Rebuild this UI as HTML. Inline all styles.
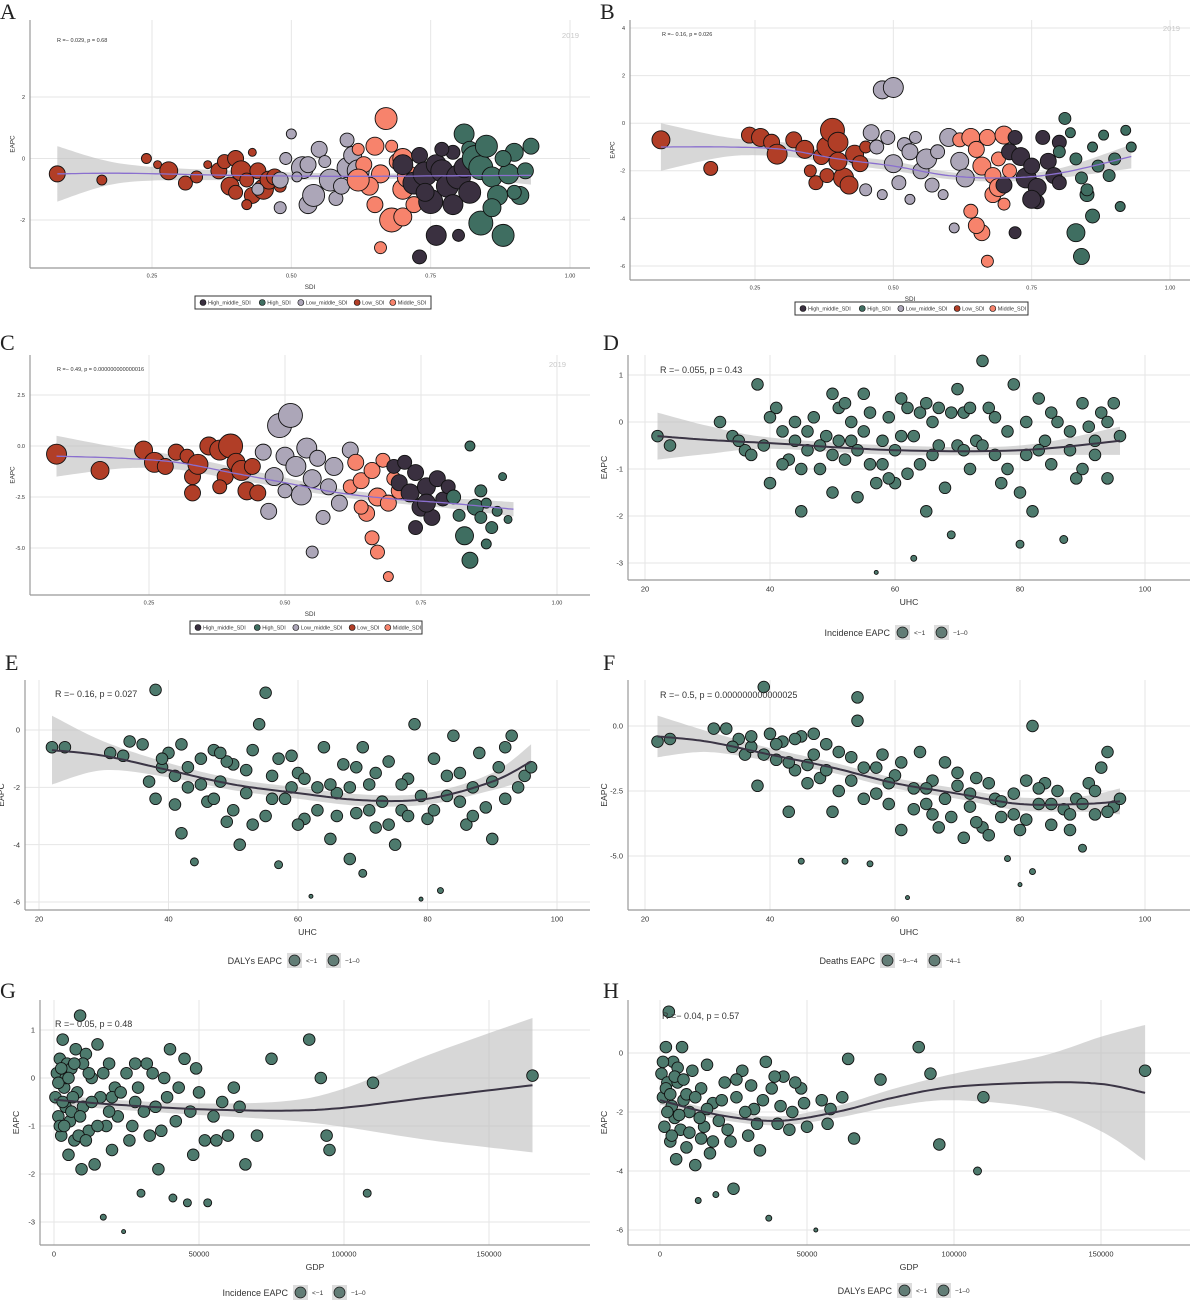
<!DOCTYPE html>
<html><head><meta charset="utf-8"><style>
html,body{margin:0;padding:0;background:#fff;}
svg{display:block;font-family:"Liberation Sans",sans-serif;}
</style></head><body>
<svg id="fig" width="1200" height="1300" viewBox="0 0 1200 1300" xmlns="http://www.w3.org/2000/svg"></svg>
<script>
// ===== DATA =====
const aX=[0.08,0.16,0.24,0.26,0.28,0.31,0.33,0.35,0.37,0.38,0.39,0.40,0.41,0.42,0.43,0.43,0.45,0.44,0.46,0.42,0.47,0.48,0.40,
0.48,0.50,0.49,0.52,0.53,0.55,0.56,0.51,0.53,0.54,0.57,0.58,0.60,0.60,0.61,0.62,0.48,0.59,0.44,
0.62,0.63,0.65,0.66,0.67,0.68,0.69,0.64,0.65,0.70,0.68,0.70,0.66,0.71,0.72,0.62,0.70,
0.70,0.72,0.73,0.74,0.75,0.76,0.77,0.78,0.79,0.80,0.81,0.82,0.76,0.80,0.73,0.74,0.77,0.79,
0.81,0.82,0.83,0.84,0.85,0.86,0.87,0.84,0.88,0.89,0.90,0.92,0.93,0.91,0.86,0.88,0.90];
const aY=[-0.5,-0.7,0.0,-0.2,-0.4,-0.8,-0.6,-0.2,-0.4,-0.1,-0.9,0.0,-0.4,-0.7,0.2,-1.2,-1.0,-0.4,-0.7,-1.5,-0.6,-0.9,-1.1,
-0.7,0.8,0.0,-0.3,-0.2,0.3,-0.1,-0.6,-1.5,-1.2,-0.7,-1.3,-0.3,0.6,0.1,-0.4,-1.6,-0.9,-1.0,
0.3,-0.2,0.4,-0.5,1.3,0.4,-0.1,-0.9,-1.5,-1.0,-2.0,-1.9,-2.9,-0.6,-1.5,-0.7,0.0,
-0.2,-0.8,0.1,-0.5,-1.4,-0.2,-0.4,-0.9,0.2,-0.6,-0.3,-1.1,-2.5,-2.5,-3.2,-1.1,0.3,-1.5,
0.8,0.3,0.0,-0.3,0.4,-0.6,-1.2,-2.1,-2.5,-0.5,0.2,-0.4,0.4,-1.2,-1.6,0.0,-1.1];
const aR=[8,5,5,4,9,7,6,4,8,7,9,8,10,7,4,8,10,8,9,5,8,6,7,
8,5,6,11,8,8,6,5,9,11,11,7,10,7,9,11,6,8,6,
6,8,9,9,11,6,8,9,8,10,12,9,6,11,8,11,10,
10,11,8,12,12,10,11,11,7,12,10,11,10,6,7,9,7,10,
10,8,13,12,11,10,10,12,11,10,9,8,8,9,9,8,7];
const aG="LLLLLLLLLLLLLLLLLLLLLLLWWWWWWWWWWWWWWWWWWWMMMMMMMMMMMMMMMMMHHHHHHHHHHHHHHHHHHGGGGGGGGGGGGGGGGG";
const aSmX=[0.08,0.2,0.4,0.6,0.8,0.93];
const aSmY=[-0.5,-0.48,-0.55,-0.58,-0.56,-0.55];
const aSmB=[0.9,0.3,0.15,0.1,0.1,0.3];

const bX=[0.08,0.17,0.24,0.26,0.28,0.29,0.32,0.34,0.35,0.36,0.37,0.38,0.39,0.40,0.41,0.42,0.43,0.44,0.38,0.45,0.40,
0.46,0.48,0.50,0.47,0.49,0.50,0.51,0.52,0.53,0.54,0.55,0.56,0.57,0.58,0.59,0.60,0.62,0.63,0.48,0.45,0.53,0.61,
0.62,0.64,0.65,0.66,0.67,0.68,0.69,0.70,0.64,0.66,0.67,0.68,0.69,0.65,0.70,0.71,
0.70,0.71,0.72,0.73,0.74,0.75,0.76,0.77,0.78,0.79,0.76,0.72,0.75,0.80,0.80,
0.80,0.81,0.82,0.83,0.84,0.85,0.86,0.83,0.84,0.87,0.88,0.89,0.90,0.91,0.92,0.93,0.86,0.85];
const bY=[-0.7,-1.9,-0.5,-0.6,-0.8,-1.3,-0.7,-1.1,-2.0,-2.5,-1.4,-1.0,-0.3,-0.8,-2.3,-2.6,-1.3,-1.7,-2.2,-1.0,-1.6,
-0.4,1.4,1.5,-1.0,-0.6,-1.7,-2.5,-0.9,-1.2,-0.6,-2.0,-1.5,-2.6,-1.2,-3.0,-0.6,-1.6,-2.3,-3.0,-2.8,-3.2,-4.4,
-0.7,-0.6,-1.1,-1.8,-0.6,-2.2,-1.5,-0.5,-3.7,-4.6,-5.8,-3.0,-2.7,-4.3,-3.4,-2.0,
-2.6,-1.2,-0.6,-1.4,-2.3,-1.8,-2.7,-0.6,-1.6,-2.2,-3.3,-4.6,-3.2,-2.5,-0.8,
-1.2,0.2,-0.4,-1.5,-2.3,-3.0,-1.0,-4.6,-5.6,-1.8,-0.5,-2.2,-1.5,-3.5,-0.3,-1.0,-3.9,-2.8];
const bR=[9,7,8,9,8,10,8,9,6,7,8,10,12,10,10,9,9,8,7,6,9,
8,9,10,7,7,9,7,7,8,6,8,10,7,7,5,9,9,9,5,6,5,5,
7,9,8,9,8,8,7,9,7,8,6,8,9,8,6,7,
8,8,7,9,10,8,9,7,8,8,7,6,9,7,7,
6,6,5,6,6,7,5,9,8,6,5,6,6,5,5,5,7,6];
const bG="LLLLLLLLLLLLLLLLLLLLLWWWWWWWWWWWWWWWWWWWWWWMMMMMMMMMMMMMMMMHHHHHHHHHHHHHHHGGGGGGGGGGGGGGGGGG";
const bSmX=[0.08,0.2,0.3,0.4,0.5,0.6,0.7,0.8,0.93];
const bSmY=[-1.0,-1.0,-1.1,-1.5,-1.8,-2.2,-2.3,-2.1,-1.4];
const bSmB=[1.0,0.4,0.3,0.2,0.2,0.15,0.15,0.2,0.5];

const cX=[0.08,0.16,0.24,0.26,0.28,0.30,0.32,0.33,0.34,0.36,0.38,0.39,0.40,0.41,0.42,0.43,0.44,0.45,0.33,0.38,
0.46,0.49,0.51,0.48,0.50,0.52,0.53,0.54,0.55,0.56,0.57,0.58,0.59,0.55,0.47,0.62,0.60,0.50,
0.62,0.63,0.64,0.65,0.66,0.67,0.68,0.69,0.70,0.66,0.67,0.69,0.64,0.71,
0.70,0.71,0.72,0.73,0.74,0.75,0.76,0.77,0.78,0.79,0.80,0.74,0.76,
0.81,0.82,0.83,0.84,0.85,0.86,0.87,0.88,0.89,0.90,0.91,0.84,0.87,0.86];
const cY=[-0.4,-1.2,-0.2,-0.8,-1.0,-0.3,-0.5,-1.5,-0.9,0.0,-0.2,-1.5,0.0,-0.8,-1.2,-2.2,-1.0,-2.3,-2.3,-2.0,
-0.3,1.0,1.5,-1.5,-0.5,-1.0,-2.4,-0.1,-1.6,-0.6,-3.5,-2.0,-1.0,-5.2,-3.2,-0.2,-2.8,-2.2,
-2.0,-0.8,-1.7,-3.3,-1.2,-2.5,-0.7,-2.8,-1.6,-4.5,-5.2,-6.4,-3.0,-2.2,
-1.0,-1.8,-0.8,-2.3,-1.3,-3.0,-2.0,-3.5,-1.6,-2.6,-2.0,-4.0,-2.8,
-2.5,-3.4,-4.4,-5.6,-3.0,-3.5,-2.8,-4.0,-3.2,-1.5,-3.6,0.0,-4.8,-2.2];
const cR=[10,9,9,10,8,8,7,8,10,9,10,8,12,9,10,9,8,8,8,7,
8,12,12,9,9,10,10,10,9,8,7,8,9,6,8,8,8,7,
7,8,8,8,8,9,7,8,7,7,7,5,7,8,
7,8,7,9,8,9,9,8,8,7,7,7,9,
7,6,9,8,8,6,5,6,5,4,4,5,5,6];
const cG="LLLLLLLLLLLLLLLLLLLLWWWWWWWWWWWWWWWWWWMMMMMMMMMMMMMMHHHHHHHHHHHHHGGGGGGGGGGGGGG";
const cSmX=[0.08,0.2,0.3,0.4,0.5,0.6,0.7,0.8,0.92];
const cSmY=[-0.5,-0.6,-0.8,-1.3,-1.8,-2.3,-2.6,-2.8,-3.1];
const cSmB=[1.0,0.5,0.35,0.3,0.25,0.2,0.2,0.25,0.35];

const dPts=[[22,-0.3],[24,-0.5],[32,0.0],[34,-0.3],[36,-0.6],[38,0.8],[39,-0.5],[40,-1.3],[41,0.3],[42,-0.2],[43,-0.8],[44,-0.4],[45,-1.9],[46,-0.6],[47,0.1],[48,-1.0],[49,-0.3],[50,0.6],[50,-1.5],[51,0.3],[52,-0.8],[53,-0.4],[54,-1.6],[55,0.6],[55,-0.2],[56,0.2],[57,-1.3],[57,-3.2,2],[58,-0.9],[59,0.1],[60,-0.6],[61,0.5],[62,-1.1],[63,-0.3],[64,0.2],[65,-1.9],[66,-0.7],[67,0.3],[68,-1.4],[69,-2.4,4],[70,0.7],[70,-0.5],[71,0.2],[72,-1.0],[73,-0.4],[74,1.3],[75,0.3],[76,-0.7],[77,-1.3],[78,-0.2],[79,0.8],[80,-2.6,4],[80,-1.5],[81,-0.7],[82,-1.9],[83,0.5],[84,-0.4],[85,-0.9],[86,0.0],[87,-2.5,4],[88,-0.6],[89,-1.2],[90,0.4],[91,-0.1],[92,-0.7],[93,0.2],[94,-1.2],[95,0.4],[96,-0.3],[63,-2.9,3],[45,-1.0],[53,0.0],[60,-1.3],[66,0.0],
[35,-0.4],[37,-0.7],[40,0.1],[42,-0.9],[44,0.0],[46,-0.2],[48,-0.5],[50,-0.7],[51,-0.4],[52,0.4],[54,-0.6],[56,-0.9],[58,-0.4],[59,-1.2],[61,-0.3],[62,0.3],[64,-0.9],[65,0.4],[67,-0.5],[69,0.2],[71,-0.6],[72,0.3],[74,-0.5],[76,0.1],[78,-1.0],[81,0.0],[83,-0.6],[85,0.2],[88,-0.2],[90,-1.0],[92,-0.4],[94,0.0]];
const dSmX=[22,30,40,60,80,96];
const dSmY=[-0.3,-0.38,-0.45,-0.6,-0.6,-0.4];
const dSmB=[0.5,0.3,0.12,0.1,0.1,0.3];

const ePts=[[22,-0.6],[24,-0.6],[31,-0.8],[34,-0.4],[36,-0.5],[38,1.4],[38,-2.4],[39,-1.3],[40,-0.8],[41,-1.6],[42,-0.5],[42,-3.6],[43,-2.0],[44,-4.6,4],[45,-1.0],[46,-2.5],[47,-0.7],[48,-1.8],[49,-3.2],[50,-1.2],[51,-4.0],[52,-2.2],[53,-0.7],[54,0.2],[55,1.3],[55,-3.0],[56,-1.6],[57,-4.7,4],[58,-2.4],[59,-0.9],[60,-1.5],[61,-3.1],[62,-5.8,2],[63,-2.0],[64,-0.6],[65,-3.8],[66,-2.2],[67,-1.2],[68,-4.5],[69,-2.9],[70,-0.6],[70,-5.0,4],[71,-1.9],[72,-3.4],[73,-2.5],[74,-1.1],[75,-4.0],[76,-2.8],[77,-1.7],[78,0.2],[79,-5.9,2],[80,-3.1],[81,-1.0],[82,-5.6,3],[83,-2.3],[84,-0.2],[85,-1.5],[86,-3.3],[87,-2.0],[88,-0.8],[89,-2.7],[90,-3.8],[91,-1.3],[92,-0.6],[93,-0.2],[94,-2.0],[95,-1.6],[96,-1.3],[49,-1.1],[60,-3.3],
[33,-0.9],[37,-1.8],[39,-1.0],[41,-2.6],[43,-1.3],[45,-1.9],[47,-2.4],[48,-0.8],[50,-2.8],[52,-1.4],[53,-3.3],[56,-2.4],[57,-1.0],[59,-2.0],[61,-1.7],[63,-2.8],[65,-1.9],[66,-3.0],[68,-2.0],[69,-1.3],[71,-2.8],[72,-1.5],[74,-3.3],[76,-1.9],[77,-3.0],[79,-2.3],[81,-2.8],[83,-1.6],[85,-2.5],[87,-3.0],[90,-1.8],[92,-2.4]];
const eSmX=[22,30,40,50,60,70,80,90,96];
const eSmY=[-0.7,-0.9,-1.4,-1.9,-2.2,-2.45,-2.4,-1.8,-1.1];
const eSmB=[1.2,0.5,0.25,0.2,0.2,0.2,0.2,0.3,0.6];

const fPts=[[22,-0.6],[24,-0.5],[31,-0.1],[33,-0.1],[35,-0.5],[36,-1.1],[37,-0.8],[38,-2.3],[39,1.5],[40,-0.3],[41,-1.3],[42,-0.6],[43,-3.3],[44,-1.7],[45,-5.2,3],[45,-0.4],[46,-1.5],[47,-0.3],[48,-2.0],[49,-0.7],[50,-3.3],[51,-1.0],[52,-5.2,3],[53,-2.1],[54,0.2],[54,1.1],[55,-1.6],[56,-5.3,3],[57,-2.6],[58,-1.1],[59,-3.0],[60,-1.9],[61,-4.0],[62,-6.6,2],[63,-2.4],[64,-1.0],[65,-3.0],[66,-2.1],[67,-3.9],[68,-1.4],[69,-3.5],[70,-2.3],[71,-4.3],[72,-3.1],[73,-2.0],[74,-3.9],[75,-4.2],[76,-2.8],[77,-3.5],[78,-5.1,3],[79,-2.6],[80,-4.0],[80,-6.1,2],[81,-2.1],[82,-5.6,3],[82,0.0],[83,-3.0],[84,-2.2],[85,-3.8],[86,-2.5],[87,-3.2],[88,-4.0],[89,-2.8],[90,-4.7,4],[91,-2.2],[92,-3.4],[93,-1.6],[94,-1.0],[95,-3.1],[96,-2.8],
[34,-0.8],[37,-0.4],[39,-1.1],[41,-0.7],[43,-1.4],[44,-0.5],[46,-2.2],[47,-1.1],[49,-1.7],[51,-2.5],[53,-1.2],[55,-2.8],[57,-1.6],[59,-2.2],[61,-1.4],[63,-3.2],[65,-2.4],[66,-3.4],[68,-2.8],[70,-1.8],[72,-2.6],[73,-3.7],[75,-2.2],[77,-2.9],[79,-3.4],[81,-3.6],[83,-2.4],[85,-3.0],[88,-3.4],[90,-3.0],[92,-2.5],[94,-3.3]];
const fSmX=[22,30,40,50,60,70,80,90,96];
const fSmY=[-0.4,-0.6,-1.1,-1.6,-2.2,-2.6,-3.0,-3.0,-2.9];
const fSmB=[0.8,0.4,0.25,0.2,0.2,0.2,0.25,0.3,0.5];

const gPts=[[500,-0.4],[1000,0.1],[1500,-0.8],[2000,0.4],[2500,-1.2],[3000,0.8],[3500,-0.2],[4000,-0.6],[4500,0.3],[5000,-1.6],[5500,-0.9],[6000,0.2],[7000,-1.3],[7500,0.6],[8000,-0.3],[9000,1.3],[9500,-1.9],[10000,-0.6],[11000,0.5],[12000,-1.1],[13000,0.0],[14000,-1.8],[15000,0.7],[16000,-0.4],[17000,-2.9,3],[18000,-1.0],[19000,0.3],[20000,-1.5],[21000,-0.2],[22000,-0.8],[24000,-3.2,2],[25000,0.1],[26000,-1.3],[28000,-0.5],[30000,-2.4,4],[32000,0.3],[33000,-1.2],[35000,-0.6],[36000,-1.9],[38000,0.0],[40000,0.6],[41000,-2.5,4],[42000,-0.9],[45000,0.4],[46000,-2.6,4],[48000,-1.6],[50000,-0.3],[52000,-1.3],[53000,-2.6,4],[55000,-0.8],[58000,-0.5],[60000,-1.2],[62000,-0.2],[66000,-1.8],[70000,-1.2],[75000,0.4],[88000,0.8],[92000,0.0],[94000,-1.2],[95000,-1.5],[108000,-2.4,4],[110000,-0.1],[165000,0.05],[3000,-0.5],[6000,-0.7],[8500,-1.2],[12000,0.1],[20000,-0.4],[28000,0.3],[2000,-1.0],[4000,0.0],[10000,0.3],
[1500,-0.1],[2500,0.2],[3500,-1.0],[5000,0.0],[6500,-0.4],[7000,0.3],[9000,-0.8],[11000,-1.3],[13000,-0.5],[15000,-1.0],[17000,0.1],[19000,-0.7],[23000,-0.3],[27000,-1.0],[29000,-0.2],[31000,-0.7],[34000,0.1],[37000,-1.1],[39000,-0.4],[43000,-0.2],[47000,-0.7],[49000,0.2],[56000,-1.3],[64000,-0.6]];
const gSmX=[0,20000,50000,80000,100000,130000,165000];
const gSmY=[-0.45,-0.55,-0.65,-0.68,-0.62,-0.4,-0.15];
const gSmB=[0.1,0.1,0.12,0.2,0.4,0.9,1.4];

const hPts=[[500,-0.7],[1000,-1.5],[1500,-2.5],[2000,0.2],[2500,-1.0],[3000,1.4],[3500,-3.0],[4000,-1.8],[4500,-0.3],[5000,-2.2],[5500,-3.6],[6000,-1.0],[7000,-2.6],[7500,0.2],[8000,-1.6],[9000,-3.2],[10000,-2.0],[11000,-0.6],[12000,-3.8],[13000,-5.0,3],[14000,-1.2],[15000,-2.5],[16000,-0.4],[17000,-3.4],[18000,-1.7],[19000,-4.8,3],[20000,-2.3],[22000,-1.0],[24000,-3.0],[25000,-4.6],[26000,-1.5],[28000,-0.6],[30000,-2.8],[32000,-1.9],[34000,-3.3],[36000,-0.3],[37000,-5.6,3],[38000,-1.2],[40000,-2.4],[42000,-0.8],[45000,-2.0],[48000,-1.2],[50000,-2.5],[53000,-6.0,2],[55000,-1.6],[58000,-1.9],[62000,-1.5],[64000,-0.2],[66000,-2.9],[75000,-0.9],[88000,0.2],[92000,-0.7],[95000,-3.1],[108000,-4.0,4],[110000,-1.5],[165000,-0.6],[2000,-1.2],[4000,-2.8],[6000,-0.5],[9000,-1.4],[14000,-2.9],
[1000,-0.3],[2500,-2.0],[3500,-1.4],[5000,-0.8],[6500,-2.1],[8000,-0.9],[10000,-2.7],[12000,-1.5],[13500,-2.2],[16000,-1.9],[18000,-3.0],[21000,-1.6],[23000,-2.6],[26000,-0.9],[29000,-2.0],[31000,-1.1],[33000,-2.4],[35000,-1.6],[39000,-0.8],[41000,-1.8],[44000,-2.6],[46000,-1.0],[49000,-1.7],[57000,-2.4]];
const hSmX=[0,20000,40000,60000,80000,100000,130000,150000,165000];
const hSmY=[-1.6,-2.1,-2.3,-2.0,-1.5,-1.15,-1.0,-1.05,-1.35];
const hSmB=[0.15,0.15,0.15,0.2,0.3,0.45,0.9,1.6,2.3];

// ===== DRAWING =====
const NS="http://www.w3.org/2000/svg";
const fig=document.getElementById('fig');
const COL={L:'#b13e27',W:'#aca6b8',M:'#f7836c',H:'#3a3040',G:'#3f6e61'};
const PT='#4d7a6d';
function mk(tag,attrs,parent){const e=document.createElementNS(NS,tag);for(const k in attrs)e.setAttribute(k,attrs[k]);(parent||fig).appendChild(e);return e;}
function txt(x,y,s,size,attrs,parent){const e=mk('text',Object.assign({x:x,y:y,'font-size':size,fill:'#333'},attrs||{}),parent);e.textContent=s;return e;}
function lin(v0,p0,v1,p1){return v=>p0+(v-v0)*(p1-p0)/(v1-v0);}
// Catmull-Rom sampling of pixel points
function spline(P){
  const out=[];
  for(let i=0;i<P.length-1;i++){
    const p0=P[Math.max(i-1,0)],p1=P[i],p2=P[i+1],p3=P[Math.min(i+2,P.length-1)];
    for(let s=0;s<16;s++){const t=s/16,t2=t*t,t3=t2*t;
      const f=(a,b,c,d)=>0.5*((2*b)+(-a+c)*t+(2*a-5*b+4*c-d)*t2+(-a+3*b-3*c+d)*t3);
      out.push([f(p0[0],p1[0],p2[0],p3[0]),f(p0[1],p1[1],p2[1],p3[1])]);}
  }
  out.push(P[P.length-1]);return out;
}
function panel(c){
  const g=mk('g',{});
  
  
  const sx=lin(c.xv[0],c.xp[0],c.xv[1],c.xp[1]);
  const sy=lin(c.yv[0],c.yp[0],c.yv[1],c.yp[1]);
  c.xt.forEach(v=>{mk('line',{x1:sx(v),x2:sx(v),y1:c.box[1],y2:c.box[3],stroke:'#e6e6e6','stroke-width':1},g);});
  c.yt.forEach(v=>{mk('line',{x1:c.box[0],x2:c.box[2],y1:sy(v),y2:sy(v),stroke:'#e6e6e6','stroke-width':1},g);});
  const ax=mk('line',{x1:c.box[0],x2:c.box[2],y1:c.box[3],y2:c.box[3],stroke:'#999','stroke-width':1.2},g);
  
  
  const ay=mk('line',{x1:c.box[0],x2:c.box[0],y1:c.box[1],y2:c.box[3],stroke:'#999','stroke-width':1.2},g);
  
  
  c.xt.forEach((v,i)=>{const t=txt(sx(v),c.box[3]+c.fs+4,c.xl[i],c.fs,{'text-anchor':'middle'},g);});
  c.yt.forEach((v,i)=>{const t=txt(c.box[0]-5,sy(v)+c.fs*0.35,c.yl[i],c.fs,{'text-anchor':'end'},g);});
  const xt=txt((c.box[0]+c.box[2])/2,c.box[3]+c.fs*2+10,c.xtitle,c.fs*1.15,{'text-anchor':'middle'},g);
  
  const ytt=txt(0,0,'EAPC',c.fs*1.15,{'text-anchor':'middle',transform:`translate(${c.box[0]-c.fs*2.8},${(c.box[1]+c.box[3])/2}) rotate(-90)`},g);
  
  const up=spline(c.smX.map((x,i)=>[sx(x),sy(c.smY[i]+c.smB[i])]));
  const dn=spline(c.smX.map((x,i)=>[sx(x),sy(c.smY[i]-c.smB[i])])).reverse();
  const ln=spline(c.smX.map((x,i)=>[sx(x),sy(c.smY[i])]));
  const band=mk('polygon',{points:up.concat(dn).map(p=>p[0].toFixed(1)+','+p[1].toFixed(1)).join(' '),fill:'#bdbdbd','fill-opacity':0.6},g);
  
  const pg=mk('g',{},g);
  c.pts.forEach(p=>{
    const ci=mk('circle',{cx:sx(p.x),cy:sy(p.y),r:p.r,fill:p.c,stroke:'#111','stroke-width':0.9},pg);
    
    
  });
  const sm=mk('polyline',{points:ln.map(p=>p[0].toFixed(1)+','+p[1].toFixed(1)).join(' '),fill:'none',stroke:c.lc,'stroke-width':c.lw},g);
  
  const an=txt(c.ann[0],c.ann[1],c.annT,c.annS,{},g);
  
  if(c.yr){const y=txt(c.yr[0],c.yr[1],'2019',c.annS*1.4,{fill:'#c8c8c8','text-anchor':'end'},g);}
  const L=txt(c.lab[0],c.lab[1],c.id,22,{'font-family':'"Liberation Serif",serif',fill:'#222'},g);
  
}
function sdiPts(X,Y,R,G){return X.map((x,i)=>({x:x,y:Y[i],r:R[i],c:COL[G[i]]}));}
function uPts(P){return P.map(p=>({x:p[0],y:p[1],r:p[2]||5.8,c:PT}));}

const sdiT=[0.25,0.5,0.75,1.0], sdiL=['0.25','0.50','0.75','1.00'];
const uT=[20,40,60,80,100], uL=['20','40','60','80','100'];
const gT=[0,50000,100000,150000], gL=['0','50000','100000','150000'];

panel({id:'A',box:[30,20,590,268],xv:[0.25,1],xp:[152,570],yv:[2,-2],yp:[97,220],xt:sdiT,xl:sdiL,yt:[2,0,-2],yl:['2','0','-2'],fs:5.5,xtitle:'SDI',
 smX:aSmX,smY:aSmY,smB:aSmB,pts:sdiPts(aX,aY,aR,aG),lc:'#8a6fcf',lw:1.3,ann:[57,42],annT:'R =− 0.029, p = 0.68',annS:5.5,yr:[579,38],lab:[0,19]});
panel({id:'B',box:[630,20,1190,280],xv:[0.25,1],xp:[755,1170],yv:[4,-6],yp:[28,266],xt:sdiT,xl:sdiL,yt:[4,2,0,-2,-4,-6],yl:['4','2','0','-2','-4','-6'],fs:5.5,xtitle:'SDI',
 smX:bSmX,smY:bSmY,smB:bSmB,pts:sdiPts(bX,bY,bR,bG),lc:'#8a6fcf',lw:1.3,ann:[662,36],annT:'R =− 0.16, p = 0.026',annS:5.5,yr:[1180,31],lab:[600,19]});
panel({id:'C',box:[30,355,590,595],xv:[0.25,1],xp:[149,557],yv:[2.5,-5],yp:[395,548],xt:sdiT,xl:sdiL,yt:[2.5,0,-2.5,-5],yl:['2.5','0.0','-2.5','-5.0'],fs:5.5,xtitle:'SDI',
 smX:cSmX,smY:cSmY,smB:cSmB,pts:sdiPts(cX,cY,cR,cG),lc:'#8a6fcf',lw:1.3,ann:[57,371],annT:'R =− 0.49, p = 0.000000000000016',annS:5.5,yr:[566,367],lab:[0,350]});
panel({id:'D',box:[628,355,1190,580],xv:[20,100],xp:[645,1145],yv:[1,-3],yp:[375,563],xt:uT,xl:uL,yt:[1,0,-1,-2,-3],yl:['1','0','-1','-2','-3'],fs:7.5,xtitle:'UHC',
 smX:dSmX,smY:dSmY,smB:dSmB,pts:uPts(dPts),lc:'#3b3545',lw:2,ann:[660,373],annT:'R =− 0.055, p = 0.43',annS:9,lab:[603,350]});
panel({id:'E',box:[25,680,590,910],xv:[20,100],xp:[39,557],yv:[0,-6],yp:[730,902],xt:uT,xl:uL,yt:[0,-2,-4,-6],yl:['0','-2','-4','-6'],fs:7.5,xtitle:'UHC',
 smX:eSmX,smY:eSmY,smB:eSmB,pts:uPts(ePts),lc:'#3b3545',lw:2,ann:[55,697],annT:'R =− 0.16, p = 0.027',annS:9,lab:[5,670]});
panel({id:'F',box:[628,680,1190,910],xv:[20,100],xp:[645,1145],yv:[0,-5],yp:[726,856],xt:uT,xl:uL,yt:[0,-2.5,-5],yl:['0.0','-2.5','-5.0'],fs:7.5,xtitle:'UHC',
 smX:fSmX,smY:fSmY,smB:fSmB,pts:uPts(fPts),lc:'#3b3545',lw:2,ann:[660,698],annT:'R =− 0.5, p = 0.000000000000025',annS:9,lab:[603,670]});
panel({id:'G',box:[40,1000,590,1245],xv:[0,150000],xp:[54,489],yv:[1,-3],yp:[1030,1222],xt:gT,xl:gL,yt:[1,0,-1,-2,-3],yl:['1','0','-1','-2','-3'],fs:7.5,xtitle:'GDP',
 smX:gSmX,smY:gSmY,smB:gSmB,pts:uPts(gPts),lc:'#3b3545',lw:2,ann:[55,1027],annT:'R =− 0.05, p = 0.48',annS:9,lab:[0,998]});
panel({id:'H',box:[628,1000,1190,1245],xv:[0,150000],xp:[660,1101],yv:[0,-6],yp:[1053,1230],xt:gT,xl:gL,yt:[0,-2,-4,-6],yl:['0','-2','-4','-6'],fs:7.5,xtitle:'GDP',
 smX:hSmX,smY:hSmY,smB:hSmB,pts:uPts(hPts),lc:'#3b3545',lw:2,ann:[662,1019],annT:'R =− 0.04, p = 0.57',annS:9,lab:[603,998]});

const sdiNames=['High_middle_SDI','High_SDI','Low_middle_SDI','Low_SDI','Middle_SDI'];
const sdiCols=['H','G','W','L','M'];
function sdiLegend(x,y,w){
  const g=mk('g',{});
  
  mk('rect',{x:x,y:y,width:w,height:13,fill:'#fff',stroke:'#333','stroke-width':1},g);
  let cx=x+8;
  sdiNames.forEach((n,i)=>{
    const c=mk('circle',{cx:cx,cy:y+6.5,r:3,fill:COL[sdiCols[i]],stroke:'#111','stroke-width':0.6},g);
    
    txt(cx+5,y+8.5,n,5.5,{},g);
    cx+=5+n.length*2.95+10;
  });
}
sdiLegend(195,296,236);
sdiLegend(795,302,233);
sdiLegend(190,621,232);

function sizeLegend(x,y,title,a,b){
  const g=mk('g',{});
  
  txt(x,y+4,title,9,{'text-anchor':'end'},g);
  let bx=x+5;
  [a,b].forEach(lab=>{
    mk('rect',{x:bx,y:y-7,width:15,height:15,fill:'#ddd'},g);
    const c=mk('circle',{cx:bx+7.5,cy:y+0.5,r:5.5,fill:'#627d76',stroke:'#222','stroke-width':0.8},g);
    
    txt(bx+19,y+3,lab,6.5,{},g);
    bx+=19+lab.length*4+8;
  });
}
sizeLegend(890,632,'Incidence EAPC','<−1','−1–0');
sizeLegend(282,960,'DALYs EAPC','<−1','−1–0');
sizeLegend(875,960,'Deaths EAPC','−9–−4','−4–1');
sizeLegend(288,1292,'Incidence EAPC','<−1','−1–0');
sizeLegend(892,1290,'DALYs EAPC','<−1','−1–0');
</script>
</body></html>
